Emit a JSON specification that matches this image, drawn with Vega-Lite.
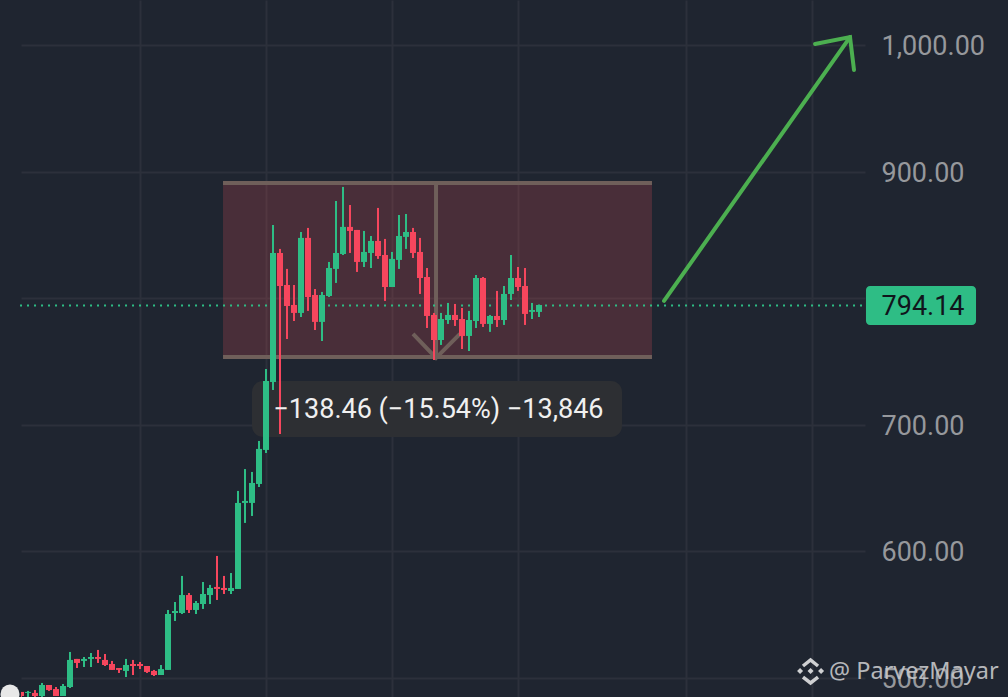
{
  "$schema": "https://vega.github.io/schema/vega-lite/v6.json",
  "background": "#1f2530",
  "width": 844,
  "height": 697,
  "padding": {"left": 21, "top": 0, "right": 143, "bottom": 0},
  "autosize": {"type": "none"},
  "config": {"view": {"stroke": null}},
  "datasets": {
    "candles": [
      {"bar":0,"open":488.6,"high":488.6,"low":484.6,"close":485.4,"side":"down"},
      {"bar":1,"open":487.8,"high":489.4,"low":484.6,"close":488.6,"side":"up"},
      {"bar":2,"open":487.8,"high":490.1,"low":484.6,"close":485.4,"side":"down"},
      {"bar":3,"open":485.4,"high":495.7,"low":484.6,"close":494.1,"side":"up"},
      {"bar":4,"open":494.1,"high":494.1,"low":489.4,"close":490.1,"side":"down"},
      {"bar":5,"open":490.9,"high":492.5,"low":485.4,"close":485.4,"side":"down"},
      {"bar":6,"open":485.4,"high":494.9,"low":485.4,"close":493.3,"side":"up"},
      {"bar":7,"open":492.5,"high":520.2,"low":491.7,"close":513.9,"side":"up"},
      {"bar":8,"open":514.7,"high":514.7,"low":507.5,"close":511.5,"side":"down"},
      {"bar":9,"open":513.1,"high":516.2,"low":508.3,"close":514.7,"side":"up"},
      {"bar":10,"open":514.7,"high":519.4,"low":508.3,"close":516.2,"side":"up"},
      {"bar":11,"open":516.2,"high":521.8,"low":511.5,"close":514.7,"side":"down"},
      {"bar":12,"open":513.9,"high":518.6,"low":509.1,"close":509.9,"side":"down"},
      {"bar":13,"open":510.7,"high":513.1,"low":506.0,"close":506.0,"side":"down"},
      {"bar":14,"open":507.5,"high":507.5,"low":503.6,"close":506.0,"side":"down"},
      {"bar":15,"open":505.2,"high":514.7,"low":500.4,"close":509.9,"side":"up"},
      {"bar":16,"open":510.7,"high":513.9,"low":502.0,"close":509.1,"side":"down"},
      {"bar":17,"open":510.7,"high":512.3,"low":506.7,"close":509.1,"side":"down"},
      {"bar":18,"open":509.1,"high":509.1,"low":503.6,"close":504.4,"side":"down"},
      {"bar":19,"open":505.2,"high":506.0,"low":501.2,"close":502.0,"side":"down"},
      {"bar":20,"open":502.0,"high":509.9,"low":502.0,"close":506.7,"side":"up"},
      {"bar":21,"open":506.0,"high":553.4,"low":506.0,"close":550.2,"side":"up"},
      {"bar":22,"open":551.0,"high":559.7,"low":544.7,"close":552.6,"side":"up"},
      {"bar":23,"open":551.0,"high":580.3,"low":550.2,"close":565.2,"side":"up"},
      {"bar":24,"open":565.2,"high":566.8,"low":551.0,"close":553.4,"side":"down"},
      {"bar":25,"open":553.4,"high":560.5,"low":550.2,"close":558.9,"side":"up"},
      {"bar":26,"open":558.1,"high":575.5,"low":554.2,"close":566.0,"side":"up"},
      {"bar":27,"open":565.2,"high":573.2,"low":558.1,"close":570.8,"side":"up"},
      {"bar":28,"open":571.6,"high":596.1,"low":561.3,"close":570.0,"side":"down"},
      {"bar":29,"open":570.8,"high":580.3,"low":566.0,"close":569.2,"side":"down"},
      {"bar":30,"open":568.4,"high":582.6,"low":566.0,"close":570.8,"side":"up"},
      {"bar":31,"open":570.0,"high":647.5,"low":570.0,"close":638.0,"side":"up"},
      {"bar":32,"open":638.0,"high":664.8,"low":622.2,"close":639.6,"side":"up"},
      {"bar":33,"open":638.0,"high":662.5,"low":627.7,"close":653.8,"side":"up"},
      {"bar":34,"open":653.0,"high":687.0,"low":650.6,"close":680.7,"side":"up"},
      {"bar":35,"open":679.9,"high":743.9,"low":677.5,"close":734.4,"side":"up"},
      {"bar":36,"open":733.6,"high":857.7,"low":727.3,"close":835.6,"side":"up"},
      {"bar":37,"open":835.6,"high":838.8,"low":692.5,"close":809.5,"side":"down"},
      {"bar":38,"open":810.3,"high":823.0,"low":767.6,"close":793.7,"side":"down"},
      {"bar":39,"open":794.5,"high":810.3,"low":781.8,"close":788.2,"side":"down"},
      {"bar":40,"open":788.2,"high":852.2,"low":785.0,"close":847.5,"side":"up"},
      {"bar":41,"open":847.5,"high":855.4,"low":789.8,"close":800.8,"side":"down"},
      {"bar":42,"open":802.4,"high":807.1,"low":774.7,"close":781.1,"side":"down"},
      {"bar":43,"open":781.1,"high":804.8,"low":766.0,"close":802.4,"side":"up"},
      {"bar":44,"open":801.6,"high":828.5,"low":800.8,"close":823.7,"side":"up"},
      {"bar":45,"open":823.0,"high":876.7,"low":811.9,"close":835.6,"side":"up"},
      {"bar":46,"open":834.8,"high":887.8,"low":834.0,"close":856.2,"side":"up"},
      {"bar":47,"open":856.2,"high":873.5,"low":835.6,"close":853.0,"side":"down"},
      {"bar":48,"open":853.8,"high":853.8,"low":820.6,"close":828.5,"side":"down"},
      {"bar":49,"open":828.5,"high":853.0,"low":824.5,"close":836.4,"side":"up"},
      {"bar":50,"open":835.6,"high":849.0,"low":823.7,"close":845.1,"side":"up"},
      {"bar":51,"open":845.1,"high":871.2,"low":830.9,"close":833.2,"side":"down"},
      {"bar":52,"open":834.0,"high":846.7,"low":797.7,"close":808.7,"side":"down"},
      {"bar":53,"open":808.7,"high":836.4,"low":808.7,"close":830.9,"side":"up"},
      {"bar":54,"open":830.1,"high":865.6,"low":823.0,"close":849.0,"side":"up"},
      {"bar":55,"open":848.3,"high":866.4,"low":838.8,"close":852.2,"side":"up"},
      {"bar":56,"open":852.2,"high":855.4,"low":831.6,"close":835.6,"side":"down"},
      {"bar":57,"open":836.4,"high":847.5,"low":803.2,"close":815.8,"side":"down"},
      {"bar":58,"open":816.6,"high":823.7,"low":776.3,"close":785.8,"side":"down"},
      {"bar":59,"open":786.6,"high":788.2,"low":751.0,"close":766.8,"side":"down"},
      {"bar":60,"open":766.8,"high":788.2,"low":762.9,"close":783.4,"side":"up"},
      {"bar":61,"open":782.6,"high":796.1,"low":779.5,"close":786.6,"side":"up"},
      {"bar":62,"open":786.6,"high":795.3,"low":777.9,"close":782.6,"side":"down"},
      {"bar":63,"open":783.4,"high":792.1,"low":759.7,"close":770.0,"side":"down"},
      {"bar":64,"open":770.0,"high":789.8,"low":758.1,"close":782.6,"side":"up"},
      {"bar":65,"open":781.8,"high":818.2,"low":776.3,"close":815.8,"side":"up"},
      {"bar":66,"open":815.8,"high":816.6,"low":777.1,"close":779.5,"side":"down"},
      {"bar":67,"open":779.5,"high":786.6,"low":773.2,"close":785.8,"side":"up"},
      {"bar":68,"open":785.8,"high":805.6,"low":777.1,"close":782.6,"side":"down"},
      {"bar":69,"open":782.6,"high":809.5,"low":778.7,"close":803.2,"side":"up"},
      {"bar":70,"open":803.2,"high":834.0,"low":798.4,"close":815.8,"side":"up"},
      {"bar":71,"open":815.8,"high":824.5,"low":805.6,"close":808.7,"side":"down"},
      {"bar":72,"open":809.5,"high":823.7,"low":778.7,"close":787.4,"side":"down"},
      {"bar":73,"open":789.0,"high":796.1,"low":783.4,"close":790.5,"side":"up"},
      {"bar":74,"open":789.0,"high":794.5,"low":785.0,"close":794.5,"side":"up"}
    ],
    "measure": [
      {"part":"top","step":1,"bar":28.86,"price":890.9},
      {"part":"top","step":2,"bar":90.14,"price":890.9},
      {"part":"bottom","step":1,"bar":28.86,"price":753.4},
      {"part":"bottom","step":2,"bar":90.14,"price":753.4},
      {"part":"stem","step":1,"bar":59.29,"price":890.9},
      {"part":"stem","step":2,"bar":59.29,"price":753.4},
      {"part":"head","step":1,"bar":56.0,"price":771.6},
      {"part":"head","step":2,"bar":59.29,"price":752.6},
      {"part":"head","step":3,"bar":62.71,"price":771.6}
    ],
    "target": [
      {"part":"shaft","step":1,"bar":91.86,"price":797.7},
      {"part":"shaft","step":2,"bar":118.43,"price":1006.3},
      {"part":"head","step":1,"bar":113.43,"price":1000.8},
      {"part":"head","step":2,"bar":118.43,"price":1006.3},
      {"part":"head","step":3,"bar":119.0,"price":980.3}
    ],
    "logoLines": [
      {"part":"up","step":1,"bar":111.71,"price":509.1},
      {"part":"up","step":2,"bar":112.79,"price":513.9},
      {"part":"up","step":3,"bar":113.86,"price":509.1},
      {"part":"down","step":1,"bar":111.71,"price":500.4},
      {"part":"down","step":2,"bar":112.79,"price":495.7},
      {"part":"down","step":3,"bar":113.86,"price":500.4}
    ],
    "logoDots": [
      {"bar":111.29,"price":505.2},
      {"bar":112.79,"price":505.2},
      {"bar":114.29,"price":505.2}
    ]
  },
  "data": {"name": "candles"},
  "encoding": {
    "x": {
      "field": "bar",
      "type": "quantitative",
      "scale": {"domain": [0, 120.57], "nice": false, "zero": false, "padding": 0},
      "axis": {
        "values": [17, 35, 53, 71, 95, 113],
        "title": null,
        "labels": false,
        "ticks": false,
        "domain": false,
        "grid": true,
        "gridColor": "#2c303b",
        "gridWidth": 2
      }
    },
    "y": {
      "field": "price",
      "type": "quantitative",
      "scale": {"domain": [484.6, 1035.57], "nice": false, "zero": false},
      "axis": {
        "orient": "right",
        "values": [500, 600, 700, 800, 900, 1000],
        "format": ",.2f",
        "title": null,
        "ticks": false,
        "domain": false,
        "grid": true,
        "gridColor": "#2c303b",
        "gridWidth": 2,
        "labelFont": "Roboto",
        "labelFontSize": 27,
        "labelColor": "#96989c",
        "labelPadding": 16,
        "labelOffset": 1.5
      }
    }
  },
  "layer": [
    {
      "data": {"values": [{"bar": 28.86, "bar2": 90.14, "price": 890.9, "price2": 753.4}]},
      "mark": {"type": "rect", "fill": "#c94a55", "opacity": 0.25},
      "encoding": {"x2": {"field": "bar2"}, "y2": {"field": "price2"}}
    },
    {
      "data": {"name": "measure"},
      "mark": {"type": "line", "color": "#6f5f5a", "strokeWidth": 4},
      "encoding": {"detail": {"field": "part"}, "order": {"field": "step"}}
    },
    {
      "data": {"values": [{"bar": -0.14, "price": 794.14}, {"bar": 120.57, "price": 794.14}]},
      "mark": {"type": "line", "color": "#2ebd85", "strokeWidth": 2, "strokeDash": [2, 5]}
    },
    {
      "data": {"values": [{"bar": 33, "bar2": 85.86, "price": 734.4, "price2": 690.1}]},
      "mark": {"type": "rect", "fill": "#2d2f33", "cornerRadius": 11},
      "encoding": {"x2": {"field": "bar2"}, "y2": {"field": "price2"}}
    },
    {
      "mark": {"type": "rule", "strokeWidth": 2, "clip": true},
      "encoding": {
        "y": {"field": "high", "type": "quantitative"},
        "y2": {"field": "low"},
        "color": {"field": "side", "type": "nominal", "legend": null, "scale": {"domain": ["up", "down"], "range": ["#2ebd85", "#f6465d"]}}
      }
    },
    {
      "mark": {"type": "bar", "size": 6, "clip": true},
      "encoding": {
        "y": {"field": "open", "type": "quantitative"},
        "y2": {"field": "close"},
        "color": {"field": "side", "type": "nominal", "legend": null, "scale": {"domain": ["up", "down"], "range": ["#2ebd85", "#f6465d"]}}
      }
    },
    {
      "data": {"values": [{"bar": 59.64, "price": 711.5, "label": "−138.46 (−15.54%) −13,846"}]},
      "mark": {"type": "text", "font": "Roboto", "fontSize": 27, "color": "#f0f0f0", "align": "center", "baseline": "middle"},
      "encoding": {"text": {"field": "label"}}
    },
    {
      "data": {"name": "target"},
      "mark": {"type": "line", "color": "#4caf50", "strokeWidth": 4, "strokeCap": "round", "clip": false},
      "encoding": {"detail": {"field": "part"}, "order": {"field": "step"}}
    },
    {
      "data": {"values": [{"bar": 120.71, "bar2": 136.43, "price": 809.5, "price2": 778.7}]},
      "mark": {"type": "rect", "fill": "#2ebd85", "cornerRadius": 4},
      "encoding": {"x2": {"field": "bar2"}, "y2": {"field": "price2"}}
    },
    {
      "data": {"values": [{"bar": 128.86, "price": 792.9, "label": "794.14"}]},
      "mark": {"type": "text", "font": "Roboto", "fontSize": 27, "color": "#10151c", "align": "center", "baseline": "middle"},
      "encoding": {"text": {"field": "label"}}
    },
    {
      "data": {"values": [{"bar": -1.57, "price": 487}]},
      "mark": {"type": "point", "filled": true, "size": 360, "color": "#e8e8e8", "opacity": 1}
    },
    {
      "data": {"name": "logoLines"},
      "mark": {"type": "line", "color": "#cfd0d2", "strokeWidth": 3.5},
      "encoding": {"detail": {"field": "part"}, "order": {"field": "step"}}
    },
    {
      "data": {"name": "logoDots"},
      "mark": {"type": "point", "shape": "diamond", "filled": true, "size": 36, "color": "#cfd0d2", "opacity": 1}
    },
    {
      "data": {"values": [{"bar": 115.43, "price": 504.4, "label": "@ ParvezMayar"}]},
      "mark": {"type": "text", "font": "Noto Sans", "fontSize": 23.5, "color": "#c6c7ca", "opacity": 0.9, "align": "left", "baseline": "middle"},
      "encoding": {"text": {"field": "label"}}
    }
  ]
}
